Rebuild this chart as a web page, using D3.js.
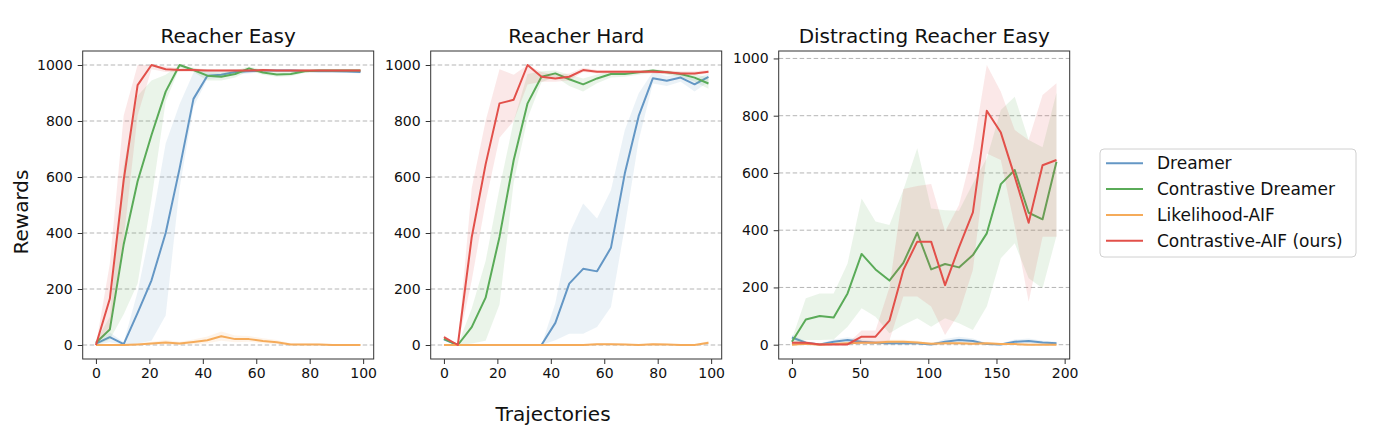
<!DOCTYPE html>
<html>
<head>
<meta charset="utf-8">
<script src="https://cdn.jsdelivr.net/npm/d3@7/dist/d3.min.js"></script>
<style>
  html, body { margin: 0; padding: 0; background: #fff; }
  svg { display: block; font-family: "DejaVu Sans", sans-serif; }
</style>
</head>
<body>
<svg id="chart" width="1380" height="429"></svg>
<script>
// ---------------- DATA ----------------
const titles = ["Reacher Easy", "Reacher Hard", "Distracting Reacher Easy"];
const seriesNames = ["Dreamer", "Contrastive Dreamer", "Likelihood-AIF", "Contrastive-AIF (ours)"];
const seriesColors = ["#6497c5", "#5aab58", "#f5ab5a", "#e2504a"];

const xShort = [0,5.2,10.4,15.6,20.8,26.1,31.3,36.5,41.7,46.9,52.1,57.3,62.5,67.7,72.9,78.2,83.4,88.6,93.8,99];
const xLong  = [0,10.2,20.4,30.6,40.8,51.1,61.3,71.5,81.7,91.9,102.1,112.3,122.5,132.7,142.9,153.2,163.4,173.6,183.8,194];

const xTicksShort = [0,20,40,60,80,100];
const xTicksLong = [0,50,100,150,200];
const yTicks = [0,200,400,600,800,1000];

// Reacher Easy
const dreamer1   = [5,28,3,115,231,400,630,879,962,965,975,978,980,980,980,979,978,978,977,975];
const dreamer1Lo = [0,10,0,5,15,105,560,850,950,955,965,970,975,975,975,975,974,973,972,970];
const dreamer1Hi = [12,45,10,190,430,720,860,972,985,980,985,985,985,985,985,984,983,982,982,980];
const contrast1   = [8,55,360,585,750,905,1000,982,962,958,968,988,973,966,968,978,980,980,980,980];
const contrast1Lo = [0,20,110,220,520,870,990,975,945,945,955,980,965,958,960,972,976,976,976,976];
const contrast1Hi = [15,100,640,890,945,965,1000,990,975,972,980,995,982,975,976,985,985,985,985,985];
const likeli1   = [0,0,0,2,5,9,5,11,17,31,21,21,14,10,2,2,2,0,0,0];
const likeli1Lo = [0,0,0,0,0,2,0,3,6,15,10,12,6,3,0,0,0,0,0,0];
const likeli1Hi = [2,2,3,6,12,18,12,20,30,48,34,32,24,18,6,6,5,3,2,2];
const caif1   = [0,165,590,928,1000,985,982,982,980,980,980,980,982,980,980,980,980,980,980,980];
const caif1Lo = [0,60,380,820,985,975,975,976,975,975,975,975,977,975,975,975,975,975,975,975];
const caif1Hi = [0,290,820,1000,1000,995,988,988,985,985,985,985,987,985,985,985,985,985,985,985];

// Reacher Hard
const dreamer2   = [20,0,0,0,0,0,0,0,79,219,272,263,347,613,818,953,944,955,931,958];
const dreamer2Lo = [15,0,0,0,0,0,0,0,17,40,40,64,136,422,732,934,925,940,905,940];
const dreamer2Hi = [25,0,0,0,0,0,0,0,150,398,505,452,553,768,899,976,960,968,950,970];
const contrast2   = [22,0,64,169,386,660,863,958,970,949,931,952,968,968,974,980,974,968,955,934];
const contrast2Lo = [18,0,5,15,145,580,810,938,958,925,905,935,955,958,965,972,966,958,940,915];
const contrast2Hi = [26,0,130,300,560,800,968,978,980,965,952,966,978,976,980,985,980,975,968,955];
const likeli2   = [0,0,0,0,0,0,0,0,0,0,0,3,3,2,0,3,2,0,0,8];
const likeli2Lo = [0,0,0,0,0,0,0,0,0,0,0,0,0,0,0,0,0,0,0,2];
const likeli2Hi = [2,2,2,2,2,2,2,2,2,2,2,7,7,5,2,7,5,2,2,14];
const caif2   = [28,0,385,645,863,876,1000,958,952,958,982,976,976,976,976,976,974,970,970,976];
const caif2Lo = [22,0,230,510,740,800,930,940,940,945,975,970,970,970,970,970,968,963,963,970];
const caif2Hi = [35,0,560,800,985,965,1000,975,965,970,990,982,982,982,982,982,980,978,978,982];

// Distracting Reacher Easy
const dreamer3   = [25,7,1,10,16,10,7,5,5,5,1,10,16,13,2,1,10,13,8,5];
const dreamer3Lo = [15,2,0,4,8,3,2,0,0,0,0,3,6,5,0,0,3,5,2,0];
const dreamer3Hi = [35,12,4,18,26,18,12,10,10,10,4,20,28,22,6,4,18,22,14,10];
const contrast3   = [10,88,100,95,179,317,263,224,286,391,263,282,270,313,389,561,610,461,438,639];
const contrast3Lo = [0,16,16,18,63,127,98,40,69,92,63,92,75,51,133,302,354,232,197,380];
const contrast3Hi = [20,162,179,179,284,511,430,418,540,686,476,470,468,563,651,820,866,715,690,880];
const likeli3   = [0,3,0,2,5,7,7,10,10,8,3,5,5,3,5,2,2,0,0,0];
const likeli3Lo = [0,0,0,0,1,2,2,4,4,3,0,1,1,0,1,0,0,0,0,0];
const likeli3Hi = [3,7,3,6,10,13,13,17,17,14,7,10,10,7,10,5,5,3,3,3];
const caif3   = [7,7,1,1,1,28,28,84,261,360,360,208,340,462,817,741,587,426,627,645];
const caif3Lo = [0,0,0,0,0,5,5,15,168,168,133,34,109,261,668,645,412,150,377,377];
const caif3Hi = [12,12,4,4,4,50,50,200,544,554,561,395,488,680,977,884,750,715,872,913];

const panels = [
  { title: titles[0], x: xShort, xDomain: [-4.95, 103.95], xTicks: xTicksShort, yDomain: [-50, 1050],
    series: [[dreamer1, dreamer1Lo, dreamer1Hi], [contrast1, contrast1Lo, contrast1Hi], [likeli1, likeli1Lo, likeli1Hi], [caif1, caif1Lo, caif1Hi]] },
  { title: titles[1], x: xShort, xDomain: [-4.95, 103.95], xTicks: xTicksShort, yDomain: [-50, 1050],
    series: [[dreamer2, dreamer2Lo, dreamer2Hi], [contrast2, contrast2Lo, contrast2Hi], [likeli2, likeli2Lo, likeli2Hi], [caif2, caif2Lo, caif2Hi]] },
  { title: titles[2], x: xLong, xDomain: [-9.7, 203.7], xTicks: xTicksLong, yDomain: [-50, 1026],
    series: [[dreamer3, dreamer3Lo, dreamer3Hi], [contrast3, contrast3Lo, contrast3Hi], [likeli3, likeli3Lo, likeli3Hi], [caif3, caif3Lo, caif3Hi]] }
];

// ---------------- LAYOUT ----------------
const svg = d3.select("#chart");
const axLefts = [82.7, 430.7, 778.7];
const axW = 291, axTop = 51, axBottom = 359;
const spineColor = "#333";

panels.forEach((p, pi) => {
  const x0 = axLefts[pi];
  const xs = d3.scaleLinear().domain(p.xDomain).range([x0, x0 + axW]);
  const ys = d3.scaleLinear().domain(p.yDomain).range([axBottom, axTop]);
  const g = svg.append("g");
  const clipId = "clip" + pi;
  svg.append("clipPath").attr("id", clipId).append("rect")
    .attr("x", x0).attr("y", axTop).attr("width", axW).attr("height", axBottom - axTop);

  // grid
  g.selectAll(".grid").data(yTicks).enter().append("line")
    .attr("x1", x0).attr("x2", x0 + axW)
    .attr("y1", d => ys(d)).attr("y2", d => ys(d))
    .attr("stroke", "#b5b5b5").attr("stroke-width", 1).attr("stroke-dasharray", "4.5,2.5");

  const plot = g.append("g").attr("clip-path", `url(#${clipId})`);
  p.series.forEach((s, si) => {
    const [mid, lo, hi] = s;
    const pts = p.x.map((xv, i) => ({ x: xv, m: mid[i], lo: lo[i], hi: hi[i] }));
    const area = d3.area().x(d => xs(d.x)).y0(d => ys(d.lo)).y1(d => ys(d.hi));
    const line = d3.line().x(d => xs(d.x)).y(d => ys(d.m));
    plot.append("path").attr("d", area(pts)).attr("fill", seriesColors[si]).attr("fill-opacity", 0.13).attr("stroke", "none");
    plot.append("path").attr("d", line(pts)).attr("fill", "none").attr("stroke", seriesColors[si])
      .attr("stroke-width", 2).attr("stroke-linejoin", "round");
  });

  // spines
  g.append("rect").attr("x", x0).attr("y", axTop).attr("width", axW).attr("height", axBottom - axTop)
    .attr("fill", "none").attr("stroke", spineColor).attr("stroke-width", 1);

  // axes
  const xAxis = d3.axisBottom(xs).tickValues(p.xTicks).tickSize(5).tickPadding(4).tickFormat(d3.format("d"));
  const xg = g.append("g").attr("transform", `translate(0,${axBottom})`).call(xAxis);
  const yAxis = d3.axisLeft(ys).tickValues(yTicks).tickSize(5).tickPadding(5).tickFormat(d3.format("d"));
  const yg = g.append("g").attr("transform", `translate(${x0},0)`).call(yAxis);
  [xg, yg].forEach(a => {
    a.select(".domain").remove();
    a.selectAll(".tick line").attr("stroke", spineColor).attr("stroke-width", 1);
    a.selectAll(".tick text").attr("fill", "#111").style("font-size", "14px").style("font-family", "DejaVu Sans");
  });

  // title
  g.append("text").attr("x", x0 + axW / 2).attr("y", 43).attr("text-anchor", "middle")
    .style("font-size", "20px").attr("fill", "#111").text(p.title);
});

// axis labels
svg.append("text").attr("x", 553).attr("y", 421).attr("text-anchor", "middle")
  .style("font-size", "20px").attr("fill", "#111").text("Trajectories");
svg.append("text").attr("transform", "translate(27.5,212) rotate(-90)").attr("text-anchor", "middle")
  .style("font-size", "20px").attr("fill", "#111").text("Rewards");

// legend
const lg = svg.append("g");
lg.append("rect").attr("x", 1100).attr("y", 149).attr("width", 256).attr("height", 108)
  .attr("rx", 4).attr("fill", "#fff").attr("stroke", "#d0d0d0").attr("stroke-width", 1);
const legY = d3.scalePoint().domain(seriesNames).range([163.3, 240.7]);
seriesNames.forEach((n, i) => {
  lg.append("line").attr("x1", 1106).attr("x2", 1143).attr("y1", legY(n)).attr("y2", legY(n))
    .attr("stroke", seriesColors[i]).attr("stroke-width", 2);
  lg.append("text").attr("x", 1157).attr("y", legY(n)).attr("dy", "0.36em")
    .style("font-size", "17px").attr("fill", "#111").text(n);
});
</script>
</body>
</html>
